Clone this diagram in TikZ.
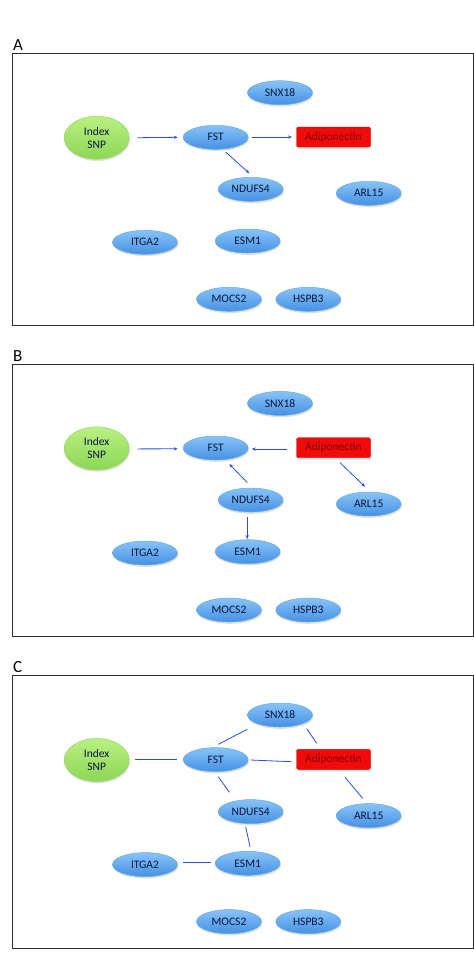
\documentclass[tikz,border=0pt]{standalone}
\usepackage{fontspec}
\setmainfont{Carlito}
\usetikzlibrary{shapes.geometric,shadows,arrows.meta}
\definecolor{bluetop}{RGB}{135,195,248}
\definecolor{bluebot}{RGB}{70,145,228}
\definecolor{blueedge}{RGB}{105,170,232}
\definecolor{greentop}{RGB}{185,240,130}
\definecolor{greenbot}{RGB}{140,215,85}
\definecolor{greenedge}{RGB}{150,215,100}
\definecolor{navy}{RGB}{10,22,60}
\definecolor{adred}{RGB}{240,10,10}
\definecolor{adtext}{RGB}{130,5,5}
\definecolor{linkblue}{RGB}{45,80,215}
\definecolor{framegray}{RGB}{45,45,45}
\tikzset{
  gene/.style={ellipse, minimum width=65pt, minimum height=24pt, inner sep=0pt,
    top color=bluetop, bottom color=bluebot, draw=blueedge, line width=0.5pt,
    text=navy, font=\fontsize{11.5}{12}\selectfont,
    drop shadow={shadow xshift=0.6pt, shadow yshift=-1.8pt, opacity=0.25}},
  snp/.style={gene, minimum height=43pt, top color=greentop, bottom color=greenbot,
    draw=greenedge, align=center, font=\fontsize{11.5}{13}\selectfont},
  adipo/.style={rectangle, rounded corners=2pt, minimum width=74pt, minimum height=20pt,
    inner sep=0pt, fill=adred, draw=adred!85!black, line width=0.4pt, text=adtext,
    font=\fontsize{11.5}{12}\selectfont,
    drop shadow={shadow xshift=0.6pt, shadow yshift=-1.8pt, opacity=0.25}},
  link/.style={draw=linkblue, line width=0.8pt},
  arr/.style={link, -{Stealth[length=4pt,width=3.2pt]}},
  panelframe/.style={draw=framegray, line width=1pt},
  panellabel/.style={anchor=base west, inner sep=0pt, font=\fontsize{17}{17}\selectfont, text=black},
}
\newcommand\genepanel[3]{%
  \draw[panelframe] (12,{53.3+#2}) rectangle (473,{325.7+#2});
  \node[panellabel] (#1lab) at (13,{50.5+#2}) {#3};
  \node[gene] (#1snx) at (280,{92.7+#2}) {SNX18};
  \node[snp] (#1idx) at (96.7,{137.7+#2}) {Index\\SNP};
  \node[gene] (#1fst) at (215.7,{137.3+#2}) {FST};
  \node[adipo] (#1ad) at (333.5,{137+#2}) {Adiponectin};
  \node[gene] (#1nd) at (250.7,{189.3+#2}) {NDUFS4};
  \node[gene] (#1arl) at (368.7,{193.3+#2}) {ARL15};
  \node[gene] (#1itga) at (145,{242.3+#2}) {ITGA2};
  \node[gene] (#1esm) at (247.7,{241+#2}) {ESM1};
  \node[gene] (#1mocs) at (229,{299.3+#2}) {MOCS2};
  \node[gene] (#1hspb) at (308.3,{299.3+#2}) {HSPB3};
}
\begin{document}
\begin{tikzpicture}[x=1pt,y=-1pt]
\useasboundingbox[fill=white] (0,0) rectangle (474,970);
\genepanel{a}{0}{A}
\genepanel{b}{310.7}{B}
\genepanel{c}{622.3}{C}
% Panel A
\draw[arr] ([shift={(41,0)}]aidx.center) -- ([shift={(-38,0)}]afst.center);
\draw[arr] ([shift={(36,-0.3)}]afst.center) -- ([shift={(-41.5,0)}]aad.center);
\draw[arr] ([shift={(10.3,15)}]afst.center) -- ([shift={(-1.4,-16)}]and.center);
% Panel B
\draw[arr] ([shift={(41,0.5)}]bidx.center) -- ([shift={(-38,0.8)}]bfst.center);
\draw[arr] ([shift={(-46.2,1.3)}]bad.center) -- ([shift={(36,1)}]bfst.center);
\draw[arr] ([shift={(-3.4,-17.3)}]bnd.center) -- ([shift={(13.6,16)}]bfst.center);
\draw[arr] ([shift={(-3.4,16.7)}]bnd.center) -- ([shift={(-0.4,-12.7)}]besm.center);
\draw[arr] ([shift={(6.5,15)}]bad.center) -- ([shift={(-3.7,-17.3)}]barl.center);
% Panel C
\draw[link] ([shift={(38.3,-1)}]cidx.center) -- ([shift={(-39,-0.6)}]cfst.center);
\draw[link] ([shift={(2.6,-15.3)}]cfst.center) -- ([shift={(-32.7,14.3)}]csnx.center);
\draw[link] ([shift={(26.7,13.7)}]csnx.center) -- ([shift={(-16.8,-16)}]cad.center);
\draw[link] ([shift={(35,0.4)}]cfst.center) -- ([shift={(-41.8,2.4)}]cad.center);
\draw[link] ([shift={(2.6,17.1)}]cfst.center) -- ([shift={(-21.4,-19.3)}]cnd.center);
\draw[link] ([shift={(11.5,18)}]cad.center) -- ([shift={(-6,-17.3)}]carl.center);
\draw[link] ([shift={(-5,15.1)}]cnd.center) -- ([shift={(2.3,-16.6)}]cesm.center);
\draw[link] ([shift={(38.3,-2.3)}]citga.center) -- ([shift={(-37,-1)}]cesm.center);
\end{tikzpicture}
\end{document}
